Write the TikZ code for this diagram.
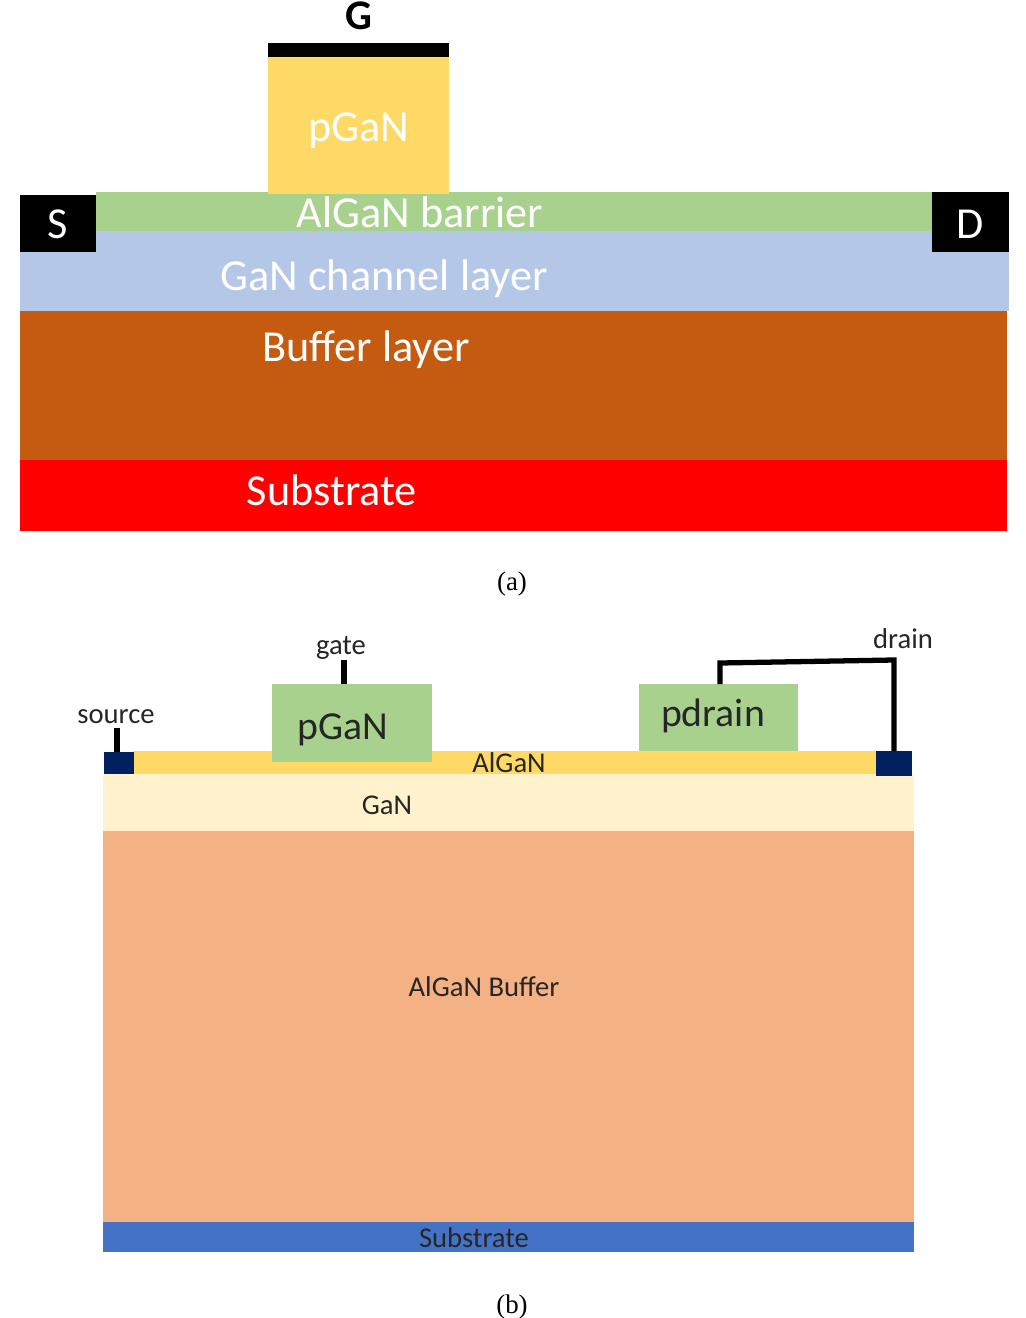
\documentclass[tikz,border=0pt]{standalone}
\usepackage{fontspec}
\setmainfont{Liberation Serif}
\newfontfamily\calibrifont{Carlito}
\definecolor{pganyellow}{HTML}{FFD966}
\definecolor{barriergreen}{HTML}{A9D18E}
\definecolor{channelblue}{HTML}{B4C7E7}
\definecolor{bufferbrown}{HTML}{C55A11}
\definecolor{ganpale}{HTML}{FFF2CC}
\definecolor{bufferpeach}{HTML}{F4B183}
\definecolor{substrateblue}{HTML}{4472C4}
\definecolor{padnavy}{HTML}{002060}
\begin{document}
\begin{tikzpicture}[x=0.02cm,y=-0.02cm]
    \tikzstyle{big}=[font=\calibrifont\fontsize{25.2}{28}\selectfont]
    \tikzstyle{whitebig}=[big,text=white]
    \tikzstyle{small}=[font=\calibrifont\fontsize{16.3}{18}\selectfont,text=black!85]
    \tikzstyle{mid}=[font=\calibrifont\fontsize{22.6}{26}\selectfont,text=black!85]
    \tikzstyle{caption}=[font=\fontsize{15.3}{18}\selectfont]
    \tikzstyle{leads}=[line width=3pt,line join=miter]
    \useasboundingbox (0,0) rectangle (1025,1318);

    % (a)
    \fill[channelblue] (20,231) rectangle (1009,311);
    \fill[barriergreen] (96,192) rectangle (932,231);
    \fill[bufferbrown] (20,311) rectangle (1007,460);
    \fill[red] (20,460) rectangle (1007,531);
    \fill[pganyellow] (268,57) rectangle (449,194);
    \fill[black] (268,43) rectangle (449,57);
    \fill[black] (20,195) rectangle (96,252);
    \fill[black] (932,192) rectangle (1009,252);
    \node[inner sep=0pt,font=\calibrifont\bfseries\fontsize{24}{28}\selectfont] (glabel) at (358.5,16) {G};
    \node[whitebig] (pganA) at (359,131) {pGaN};
    \node[whitebig] (barrierA) at (420,212) {AlGaN barrier};
    \node[whitebig] (channelA) at (384,279) {GaN channel layer};
    \node[whitebig] (bufferA) at (366,350) {Buffer layer};
    \node[whitebig] (substrateA) at (332,490) {Substrate};
    \node[whitebig] (slabel) at (58,224) {S};
    \node[whitebig] (dlabel) at (970,224) {D};
    \node[caption] (capA) at (512,584) {(a)};

    % (b)
    \fill[ganpale] (103,774) rectangle (914,831);
    \fill[pganyellow] (133,751) rectangle (876,774);
    \fill[bufferpeach] (103,831) rectangle (914,1222);
    \fill[substrateblue] (103,1222) rectangle (914,1252);
    \fill[barriergreen] (272,684) rectangle (432,762);
    \fill[barriergreen] (639,684) rectangle (798,751);
    \fill[padnavy] (104,752) rectangle (134,774);
    \fill[padnavy] (876,751) rectangle (912,776);
    \coordinate (gatetop) at (344,660);
    \coordinate (gatefoot) at (344,684);
    \coordinate (sourcetop) at (117,728);
    \coordinate (sourcefoot) at (117,752);
    \coordinate (pdrainfoot) at (720,684);
    \coordinate (pdrainup) at (720,663);
    \coordinate (drainup) at (894,660);
    \coordinate (drainfoot) at (894,751);
    \draw[leads] (gatetop) -- (gatefoot);
    \draw[leads] (sourcetop) -- (sourcefoot);
    \draw[leads] (pdrainfoot) -- (pdrainup) -- (drainup) -- (drainfoot);
    \node[small] (gatelabel) at (341,648) {gate};
    \node[small] (sourcelabel) at (116,717) {source};
    \node[small] (drainlabel) at (903,639) {drain};
    \node[mid] (pganB) at (343,730) {pGaN};
    \node[mid] (pdrainB) at (713,716) {pdrain};
    \node[small] (alganB) at (509,763) {AlGaN};
    \node[small] (ganB) at (387,805) {GaN};
    \node[small] (bufferB) at (484,987) {AlGaN Buffer};
    \node[small] (substrateB) at (474,1238) {Substrate};
    \node[caption] (capB) at (512,1307) {(b)};
\end{tikzpicture}
\end{document}
